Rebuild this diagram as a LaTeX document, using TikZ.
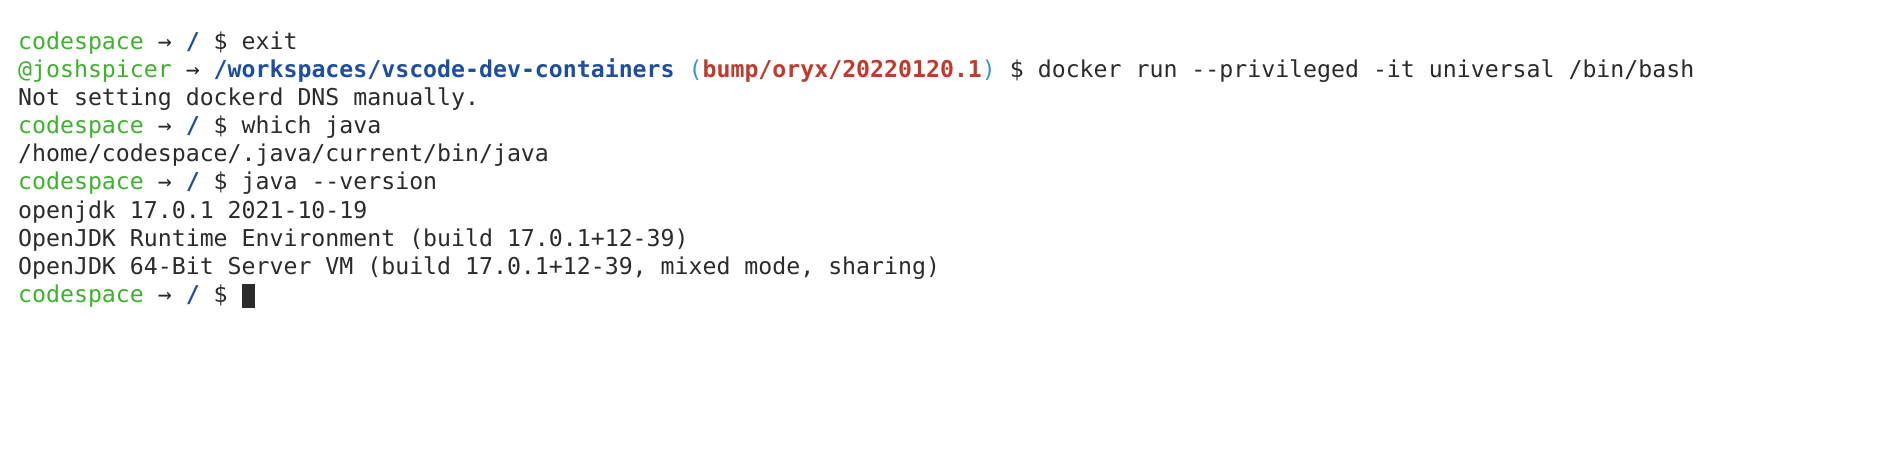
\documentclass[tikz,border=0pt]{standalone}
\usepackage{fontspec}
\newfontfamily\mono{DejaVu Sans Mono}
\definecolor{tgreen}{HTML}{3DB22C}
\definecolor{tblue}{HTML}{1E4F9E}
\definecolor{tcyan}{HTML}{3A98C9}
\definecolor{tred}{HTML}{C13A2E}
\definecolor{ttext}{HTML}{2B2B2B}
\newcommand{\cs}{\textcolor{tgreen}{codespace} → \textcolor{tblue}{\bfseries /} \$ }
\begin{document}
\begin{tikzpicture}[x=1pt,y=1pt,
  ln/.style={anchor=base west,inner sep=0pt,font=\mono\fontsize{23.2}{28}\selectfont,text=ttext}]
\useasboundingbox (0,0) rectangle (1892,452);
\fill[white] (0,0) rectangle (1892,452);
\node[ln] (l1) at (18,402.5) {\cs exit};
\node[ln] (l2) at (18,374.4) {\textcolor{tgreen}{@joshspicer} → \textcolor{tblue}{\bfseries /workspaces/vscode-dev-containers} \textcolor{tcyan}{(}\textcolor{tred}{\bfseries bump/oryx/20220120.1}\textcolor{tcyan}{)} \$ docker run -{}-privileged -it universal /bin/bash};
\node[ln] (l3) at (18,346.3) {Not setting dockerd DNS manually.};
\node[ln] (l4) at (18,318.2) {\cs which java};
\node[ln] (l5) at (18,290.1) {/home/codespace/.java/current/bin/java};
\node[ln] (l6) at (18,262) {\cs java -{}-version};
\node[ln] (l7) at (18,233.9) {openjdk 17.0.1 2021-10-19};
\node[ln] (l8) at (18,205.8) {OpenJDK Runtime Environment (build 17.0.1+12-39)};
\node[ln] (l9) at (18,177.7) {OpenJDK 64-Bit Server VM (build 17.0.1+12-39, mixed mode, sharing)};
\node[ln] (l10) at (18,149.6) {\cs};
\fill[ttext] ([xshift=14pt,yshift=-6pt]l10.base east) rectangle ++(13,24);
\end{tikzpicture}
\end{document}
